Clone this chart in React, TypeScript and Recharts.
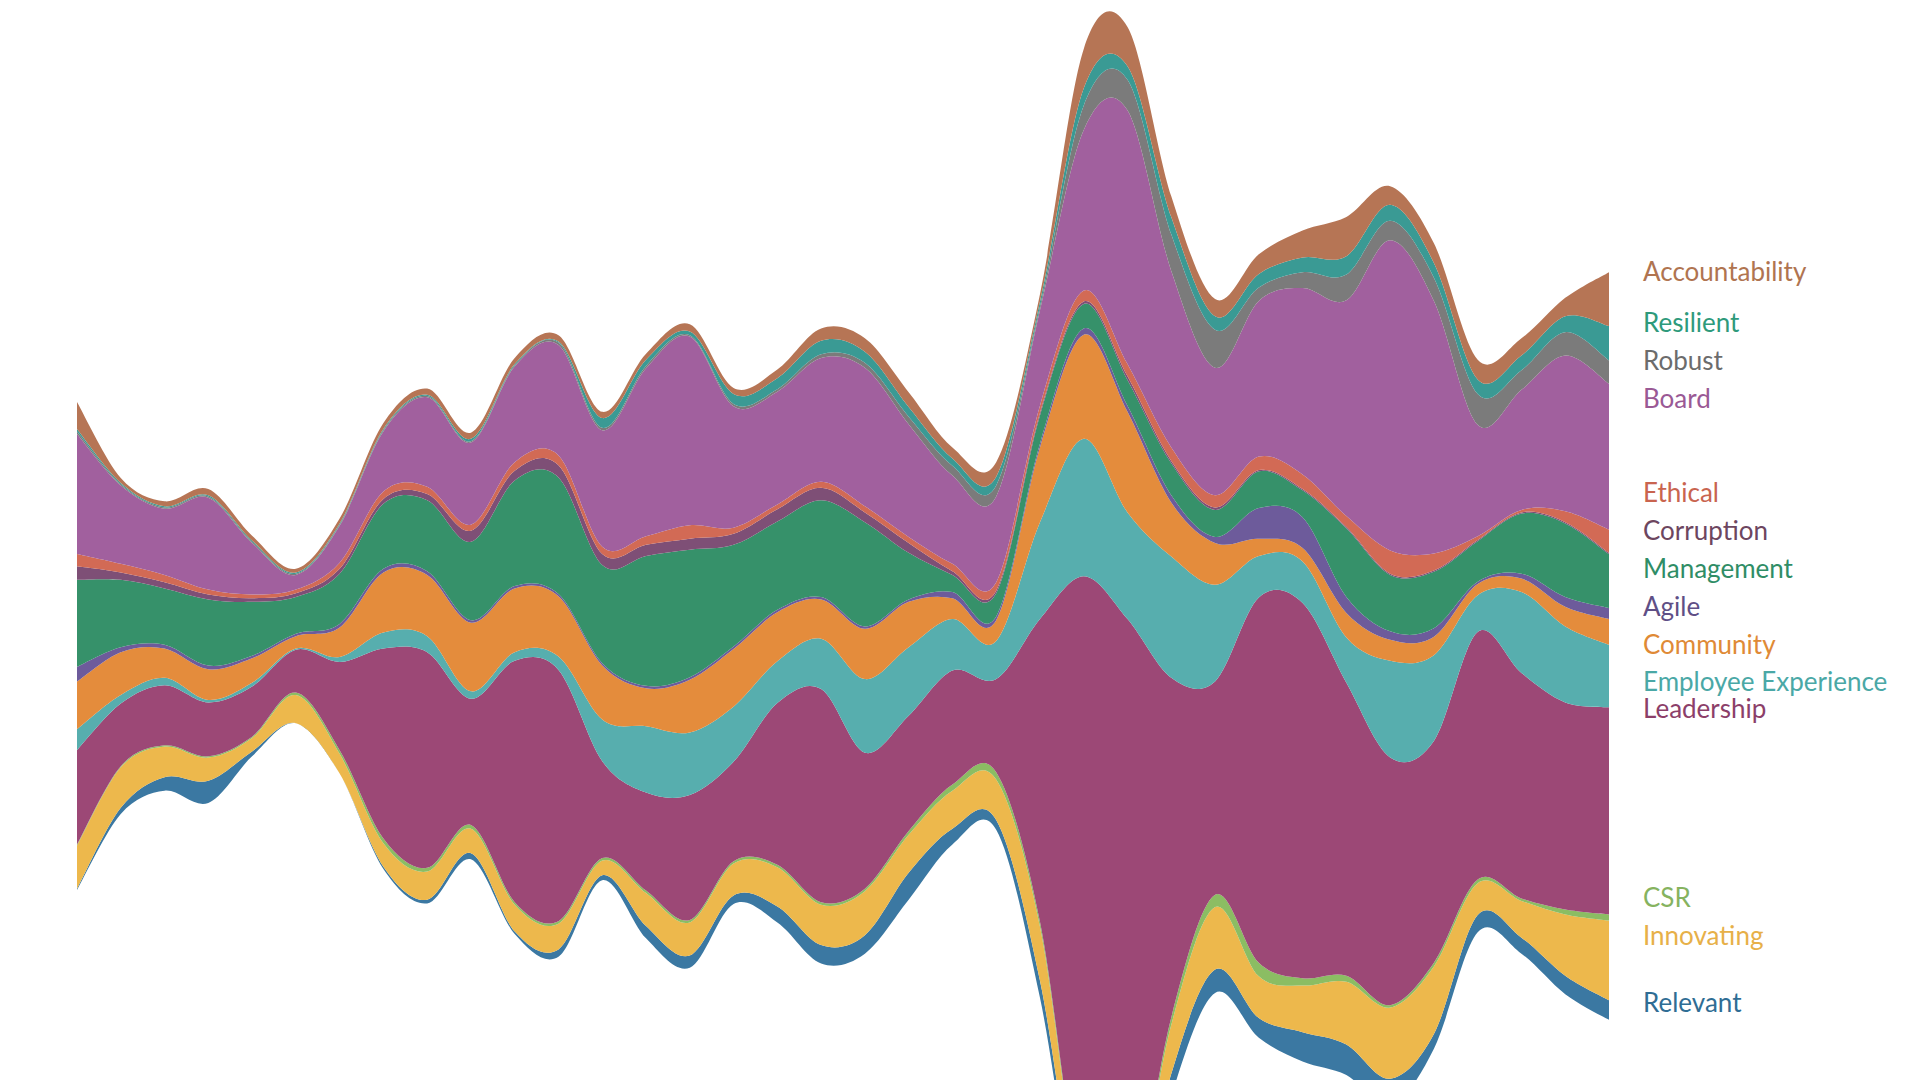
import { AreaChart, Area, XAxis, YAxis } from 'recharts';

// 36 evenly spaced sampling periods
const periods = [
  'P01', 'P02', 'P03', 'P04', 'P05', 'P06', 'P07', 'P08', 'P09', 'P10', 'P11', 'P12',
  'P13', 'P14', 'P15', 'P16', 'P17', 'P18', 'P19', 'P20', 'P21', 'P22', 'P23', 'P24',
  'P25', 'P26', 'P27', 'P28', 'P29', 'P30', 'P31', 'P32', 'P33', 'P34', 'P35', 'P36',
];

// layer thickness per period, bottom of the stream first
const relevant = [1, 5, 11, 18, 4, 0, 0, 2, 3, 5, 2, 6, 4, 10, 10, 7, 13, 15, 15, 22, 13, 8, 14, 8, 8, 18, 19, 16, 24, 25, 22, 12, 14, 13, 15, 16];
const innovating = [35, 33, 25, 19, 11, 23, 16, 19, 23, 20, 22, 21, 12, 27, 27, 26, 32, 33, 36, 31, 31, 33, 44, 20, 20, 40, 51, 34, 38, 51, 58, 55, 26, 30, 50, 65];
const csr = [1, 1, 1, 1, 1, 2, 3, 4, 3, 3, 2, 2, 2, 2, 2, 2, 2, 2, 2, 3, 5, 6, 4, 4, 4, 6, 10, 11, 6, 5, 2, 3, 3, 2, 4, 5];
const leadership = [77, 51, 49, 44, 41, 35, 72, 155, 176, 103, 197, 205, 79, 80, 102, 81, 132, 174, 111, 94, 93, 76, 247, 512, 495, 277, 174, 298, 306, 239, 202, 181, 202, 184, 169, 169];
const employeeExperience = [17, 7, 6, 2, 3, 1, 4, 13, 13, 6, 7, 11, 34, 54, 51, 45, 34, 41, 60, 56, 42, 31, 79, 112, 87, 99, 79, 34, 34, 37, 79, 70, 30, 66, 62, 51];
const community = [39, 35, 24, 25, 20, 10, 24, 49, 50, 56, 52, 49, 44, 31, 43, 47, 40, 32, 41, 37, 17, 17, 61, 85, 82, 44, 34, 14, 11, 20, 17, 15, 9, 11, 16, 21];
const agile = [12, 4, 3, 3, 2, 2, 3, 3, 3, 2, 2, 2, 2, 2, 2, 2, 2, 2, 2, 2, 5, 3, 3, 5, 5, 6, 5, 25, 25, 13, 7, 7, 2, 4, 8, 9];
const management = [71, 55, 46, 54, 44, 30, 41, 53, 58, 64, 86, 95, 80, 106, 104, 83, 72, 79, 85, 38, 14, 19, 23, 20, 21, 26, 22, 30, 22, 56, 46, 46, 33, 49, 60, 44];
const corruption = [11, 6, 5, 4, 3, 3, 4, 4, 5, 9, 8, 10, 9, 9, 9, 9, 10, 10, 8, 8, 3, 2, 2, 2, 3, 2, 2, 1, 1, 1, 1, 1, 1, 1, 1, 1];
const ethical = [10, 7, 6, 4, 3, 3, 5, 6, 6, 5, 7, 8, 6, 7, 11, 5, 4, 5, 5, 5, 6, 7, 6, 9, 10, 11, 10, 11, 12, 9, 19, 14, 3, 2, 9, 19];
const board = [98, 64, 54, 75, 42, 12, 30, 49, 73, 67, 78, 90, 95, 137, 154, 99, 92, 101, 113, 92, 72, 70, 78, 131, 207, 144, 104, 127, 152, 176, 253, 206, 91, 98, 127, 119];
const robust = [2, 1, 1, 1, 1, 1, 1, 1, 1, 1, 1, 2, 2, 2, 1, 2, 2, 3, 4, 6, 8, 9, 3, 20, 25, 30, 31, 11, 13, 21, 16, 19, 25, 16, 19, 19];
const resilient = [2, 1, 1, 1, 1, 1, 1, 1, 1, 2, 1, 1, 8, 5, 3, 8, 9, 11, 9, 8, 6, 7, 4, 14, 11, 14, 11, 11, 12, 15, 13, 12, 12, 12, 13, 28];
const accountability = [22, 4, 4, 5, 4, 3, 4, 5, 5, 5, 5, 5, 5, 5, 6, 5, 7, 10, 11, 12, 9, 12, 6, 32, 32, 17, 14, 16, 22, 32, 15, 16, 16, 14, 15, 44];

const series = [
  { key: 'Relevant', values: relevant, fill: '#3b78a2', text: '#2f6d94' },
  { key: 'Innovating', values: innovating, fill: '#edb84c', text: '#e7b048' },
  { key: 'CSR', values: csr, fill: '#8bbd63', text: '#86b35f' },
  { key: 'Leadership', values: leadership, fill: '#9c4876', text: '#8c3f69' },
  { key: 'Employee Experience', values: employeeExperience, fill: '#57aeae', text: '#4aa8a6' },
  { key: 'Community', values: community, fill: '#e48c3c', text: '#df8a36' },
  { key: 'Agile', values: agile, fill: '#6d5b9b', text: '#5f4f86' },
  { key: 'Management', values: management, fill: '#36916a', text: '#2f8d66' },
  { key: 'Corruption', values: corruption, fill: '#7e4f76', text: '#6d465f' },
  { key: 'Ethical', values: ethical, fill: '#d26a55', text: '#c9644f' },
  { key: 'Board', values: board, fill: '#a1609e', text: '#9a5995' },
  { key: 'Robust', values: robust, fill: '#7b7b7b', text: '#6c6c6c' },
  { key: 'Resilient', values: resilient, fill: '#3a9a94', text: '#2e9a7b' },
  { key: 'Accountability', values: accountability, fill: '#b67555', text: '#b07450' },
];

// vertical placement of the end labels (page pixels)
const labelTop: Record<string, number> = {
  Accountability: 271,
  Resilient: 322,
  Robust: 360,
  Board: 398,
  Ethical: 492,
  Corruption: 530,
  Management: 568,
  Agile: 606,
  Community: 644,
  'Employee Experience': 681,
  Leadership: 708,
  CSR: 897,
  Innovating: 935,
  Relevant: 1002,
};

const data = periods.map((period, i) => {
  const row: Record<string, string | number> = { period };
  series.forEach((s) => {
    row[s.key] = s.values[i];
  });
  return row;
});

// uniform Catmull-Rom curve, same smoothing as a d3 cardinal curve with tension 0
const catmullRom = (context: any) => {
  let pts: number[][] = [];
  let line = NaN;
  return {
    areaStart() {
      line = 0;
    },
    areaEnd() {
      line = NaN;
    },
    lineStart() {
      pts = [];
    },
    point(x: number, y: number) {
      pts.push([+x, +y]);
    },
    lineEnd() {
      const n = pts.length;
      if (n) {
        if (line) context.lineTo(pts[0][0], pts[0][1]);
        else context.moveTo(pts[0][0], pts[0][1]);
        for (let i = 0; i < n - 1; i++) {
          const p0 = pts[Math.max(i - 1, 0)];
          const p1 = pts[i];
          const p2 = pts[i + 1];
          const p3 = pts[Math.min(i + 2, n - 1)];
          context.bezierCurveTo(
            p1[0] + (p2[0] - p0[0]) / 6,
            p1[1] + (p2[1] - p0[1]) / 6,
            p2[0] - (p3[0] - p1[0]) / 6,
            p2[1] - (p3[1] - p1[1]) / 6,
            p2[0],
            p2[1]
          );
        }
      }
      if (line || (line !== 0 && n === 1)) context.closePath();
      line = 1 - line;
    },
  };
};

const App = () => {
  return (
    <div
      style={{
        position: 'absolute',
        left: 0,
        top: 0,
        width: 1900,
        height: 1080,
        overflow: 'hidden',
        background: '#ffffff',
        fontFamily: 'Lato, "Open Sans", sans-serif',
      }}
    >
      <AreaChart
        width={1900}
        height={1292}
        data={data}
        stackOffset="silhouette"
        margin={{ top: 0, right: 291, bottom: 0, left: 77 }}
      >
        <XAxis dataKey="period" hide />
        <YAxis type="number" hide domain={[-527, 527]} allowDataOverflow />
        {series.map((s) => (
          <Area
            key={s.key}
            type={catmullRom as any}
            dataKey={s.key}
            stackId="stream"
            stroke="none"
            fill={s.fill}
            fillOpacity={1}
            isAnimationActive={false}
          />
        ))}
      </AreaChart>

      {/* end labels */}
      {series.map((s) => (
        <div
          key={`label-${s.key}`}
          style={{
            position: 'absolute',
            left: 1643,
            top: labelTop[s.key],
            transform: 'translateY(-50%)',
            fontSize: 26,
            lineHeight: 1,
            color: s.text,
            whiteSpace: 'nowrap',
          }}
        >
          {s.key}
        </div>
      ))}
    </div>
  );
};

export default App;
